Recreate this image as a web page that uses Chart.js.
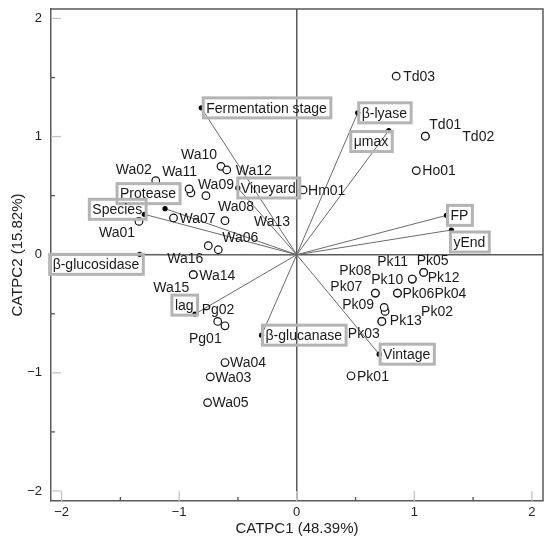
<!DOCTYPE html>
<html>
<head>
<meta charset="utf-8">
<script src="https://cdn.jsdelivr.net/npm/chart.js@4.4.0/dist/chart.umd.min.js"></script>
<style>
  html, body { margin: 0; padding: 0; background: #fff; }
  #wrap { width: 550px; height: 555px; }
</style>
</head>
<body>
<div id="wrap"><canvas id="biplot" width="550" height="555"></canvas></div>
<script>
// Object scores (open circles)
const objectNames = ["Td03", "Td01", "Td02", "Ho01", "Hm01",
  "Wa01", "Wa02", "Wa03", "Wa04", "Wa05", "Wa06", "Wa07", "Wa08",
  "Wa09", "Wa10", "Wa11", "Wa12", "Wa13", "Wa14", "Wa15", "Wa16",
  "Pg01", "Pg02",
  "Pk01", "Pk02", "Pk03", "Pk04", "Pk05", "Pk06", "Pk07", "Pk08",
  "Pk09", "Pk10", "Pk11", "Pk12", "Pk13"];
const objectX = [0.846, 1.094, 1.094, 1.017, 0.054,
  -1.342, -1.199, -0.735, -0.610, -0.758, -0.667, -1.048, -0.772,
  -0.900, -0.644, -0.915, -0.595, -0.610, -0.880, -0.880, -0.752,
  -0.610, -0.672,
  0.462, 0.752, 0.724, 0.857, 1.080, 0.857, 0.669, 0.669,
  0.744, 0.983, 0.983, 1.080, 0.724];
const objectY = [1.511, 1.003, 1.003, 0.712, 0.548,
  0.282, 0.627, -1.034, -0.913, -1.252, 0.042, 0.311, 0.500,
  0.523, 0.748, 0.557, 0.718, 0.288, -0.169, -0.169, 0.076,
  -0.602, -0.565,
  -1.025, -0.480, -0.565, -0.325, -0.150, -0.325, -0.325, -0.325,
  -0.446, -0.206, -0.206, -0.150, -0.565];

// Component loadings (vectors)
const variableNames = ["Fermentation stage", "β-lyase", "μmax", "FP", "yEnd",
  "Vineyard", "Protease", "Species", "β-glucosidase", "lag", "β-glucanase", "Vintage"];
const variableX = [-0.812, 0.519, 0.783, 1.274, 1.316, -0.501, -1.120, -1.296, -1.336, -0.866, -0.299, 0.701];
const variableY = [1.243, 1.201, 1.051, 0.333, 0.209, 0.565, 0.390, 0.342, 0.003, -0.503, -0.681, -0.842];

// Axis ticks
const xTicks = [-2, -1, 0, 1, 2];
const yTicks = [-2, -1, 0, 1, 2];
const xMinorTicks = [-1.5, -0.5, 0.5, 1.5];
const yMinorTicks = [-1.5, -0.5, 0.5, 1.5];
const xTitle = "CATPC1 (48.39%)";
const yTitle = "CATPC2 (15.82%)";

// label placement in pixels relative to the mark (style only)
const objectLabelOffset = {
  Td03: [7, 0], Td01: [4, -12], Td02: [37, 0], Ho01: [6, 0], Hm01: [5, 0],
  Wa01: [-40, 11], Wa02: [-40, -11], Wa03: [5, 0], Wa04: [5, 0], Wa05: [5, 0],
  Wa06: [4, -13], Wa07: [6, 0], Wa08: [12, 10], Wa09: [7, -9], Wa10: [-40, -12],
  Wa11: [-27, -18], Wa12: [9, 0], Wa13: [29, 0], Wa14: [6, 0], Wa15: [-40, 12],
  Wa16: [-41, 12], Pg01: [-36, 12], Pg02: [-16, -12],
  Pk01: [6, 0], Pk02: [36, 0], Pk03: [-34, 12], Pk04: [37, 0], Pk05: [-7, -12],
  Pk06: [5, 0], Pk07: [-45, -7], Pk08: [-36, -23], Pk09: [-42, -3], Pk10: [-41, 0],
  Pk11: [-35, -18], Pk12: [4, 5], Pk13: [8, -1]
};
const variableLabelOffset = {
  "Fermentation stage": [5, 0], "β-lyase": [4, 0], "μmax": [-35, 11], "FP": [4, 0],
  "yEnd": [2, 12], "Vineyard": [3, 0], "Protease": [-45, -15], "Species": [-52, -5],
  "β-glucosidase": [-87, 10], "lag": [-20, -9], "β-glucanase": [4, 0], "Vintage": [4, 0]
};

const FONT = "'Liberation Sans', Arial, sans-serif";

const vectorSets = variableNames.map((name, i) => ({
  label: name,
  data: [{ x: 0, y: 0 }, { x: variableX[i], y: variableY[i] }],
  showLine: true,
  borderColor: "#6a6a6a",
  borderWidth: 1,
  pointRadius: 0,
  order: 3
}));

const endpointSet = {
  label: "variables",
  data: variableX.map((x, i) => ({ x: x, y: variableY[i] })),
  pointRadius: 2.6,
  pointBackgroundColor: "#000",
  pointBorderWidth: 0,
  order: 2
};

const objectSet = {
  label: "objects",
  data: objectX.map((x, i) => ({ x: x, y: objectY[i] })),
  pointRadius: 3.8,
  pointBackgroundColor: "#fff",
  pointBorderColor: "#111",
  pointBorderWidth: 1.2,
  order: 1
};

const labelPlugin = {
  id: "biplotLabels",
  afterDatasetsDraw(chart) {
    const ctx = chart.ctx;
    const xs = chart.scales.x, ys = chart.scales.y;
    const area = chart.chartArea;
    ctx.save();

    // frame top/right
    ctx.strokeStyle = "#5a5a5a";
    ctx.lineWidth = 1.5;
    ctx.beginPath();
    ctx.moveTo(area.left, area.top);
    ctx.lineTo(area.right, area.top);
    ctx.lineTo(area.right, area.bottom);
    ctx.stroke();

    // inward ticks
    const drawTick = (horizontal, v, len, color) => {
      ctx.strokeStyle = color;
      ctx.lineWidth = 1.3;
      ctx.beginPath();
      if (horizontal) {
        const px = xs.getPixelForValue(v);
        ctx.moveTo(px, area.bottom);
        ctx.lineTo(px, area.bottom - len);
      } else {
        const py = ys.getPixelForValue(v);
        ctx.moveTo(area.left, py);
        ctx.lineTo(area.left + len, py);
      }
      ctx.stroke();
    };
    xTicks.forEach(v => drawTick(true, v, 10, "#c4c4c4"));
    yTicks.forEach(v => drawTick(false, v, 10, "#c4c4c4"));
    xMinorTicks.forEach(v => drawTick(true, v, 4, "#555"));
    yMinorTicks.forEach(v => drawTick(false, v, 4, "#555"));

    ctx.font = "14px " + FONT;
    ctx.textBaseline = "middle";
    ctx.textAlign = "left";

    // variable labels with grey frame
    variableNames.forEach((name, i) => {
      const px = xs.getPixelForValue(variableX[i]);
      const py = ys.getPixelForValue(variableY[i]);
      const off = variableLabelOffset[name];
      const tx = px + off[0], ty = py + off[1];
      const w = ctx.measureText(name).width;
      ctx.strokeStyle = "#b4b4b4";
      ctx.lineWidth = 3;
      ctx.strokeRect(tx - 3, ty - 10, w + 7, 20);
      ctx.fillStyle = "#1a1a1a";
      ctx.fillText(name, tx, ty + 1);
    });

    // object labels
    ctx.fillStyle = "#1a1a1a";
    objectNames.forEach((name, i) => {
      const px = xs.getPixelForValue(objectX[i]);
      const py = ys.getPixelForValue(objectY[i]);
      const off = objectLabelOffset[name];
      ctx.fillText(name, px + off[0], py + off[1] + 1);
    });
    ctx.restore();
  }
};

const axisLineColor = ctx => (ctx.tick && ctx.tick.value === 0 ? "#5a5a5a" : "rgba(0,0,0,0)");

// keep the plot box where the reference has it
const noEdgePadding = scale => {
  scale.paddingTop = 0;
  scale.paddingBottom = 0;
  scale.paddingLeft = 0;
  scale.paddingRight = 0;
};

new Chart(document.getElementById("biplot"), {
  type: "scatter",
  data: { datasets: [...vectorSets, endpointSet, objectSet] },
  options: {
    responsive: false,
    animation: false,
    events: [],
    layout: { padding: { left: 0, right: 7, top: 9, bottom: 0 } },
    plugins: { legend: { display: false }, tooltip: { enabled: false } },
    scales: {
      x: {
        type: "linear",
        min: -2.09,
        max: 2.095,
        afterBuildTicks: scale => { scale.ticks = xTicks.map(v => ({ value: v })); },
        afterFit: scale => { scale.height = 54; noEdgePadding(scale); },
        ticks: {
          padding: 4,
          color: "#222",
          font: { family: FONT, size: 13 },
          callback: v => String(v).replace("-", "\u2212")
        },
        grid: { color: axisLineColor, lineWidth: 1.5, drawTicks: false },
        border: { display: true, color: "#5a5a5a", width: 1.5 },
        title: {
          display: true,
          text: xTitle,
          color: "#222",
          font: { family: FONT, size: 15 },
          padding: { top: 4, bottom: 17 }
        }
      },
      y: {
        type: "linear",
        min: -2.085,
        max: 2.08,
        afterBuildTicks: scale => { scale.ticks = yTicks.map(v => ({ value: v })); },
        afterFit: scale => { scale.width = 51; noEdgePadding(scale); },
        ticks: {
          padding: 9,
          color: "#222",
          font: { family: FONT, size: 13 },
          callback: v => String(v).replace("-", "\u2212")
        },
        grid: { color: axisLineColor, lineWidth: 1.5, drawTicks: false },
        border: { display: true, color: "#5a5a5a", width: 1.5 },
        title: {
          display: true,
          text: yTitle,
          color: "#222",
          font: { family: FONT, size: 15 },
          padding: { top: 9, bottom: 4 }
        }
      }
    }
  },
  plugins: [labelPlugin]
});
</script>
</body>
</html>
